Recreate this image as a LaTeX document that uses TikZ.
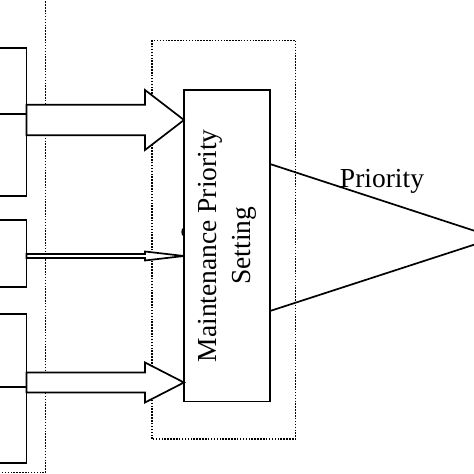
\documentclass[tikz,border=0pt]{standalone}
\usepackage{fontspec}
\setmainfont{Liberation Serif}
\usetikzlibrary{positioning,calc}

\tikzset{
    inbox/.style={draw, line width=1.7pt, minimum width=70pt, outer sep=0pt, inner sep=0pt},
    flow/.style={draw, line width=1.7pt, fill=white, line join=miter, miter limit=3},
    frame/.style={line width=1.5pt, dash pattern=on 1.5pt off 1.4pt},
}

\newcommand{\blockarrow}[5]{%
    \draw[flow] let \p1=(#1.east), \p2=(#2.west) in
        (\x1,#3pt+#4pt) -- (\x2-39pt,#3pt+#4pt) -- (\x2-39pt,#3pt+#5pt) -- (\x2,#3pt)
        -- (\x2-39pt,#3pt-#5pt) -- (\x2-39pt,#3pt-#4pt) -- (\x1,#3pt-#4pt) -- cycle;}

\begin{document}
\begin{tikzpicture}[x=1pt, y=1pt]
    \useasboundingbox (0,0) rectangle (474,474);
    \clip (0,0) rectangle (474,474);

    \draw[frame] (45.7,490) -- (45.7,1.7) -- (-20,1.7);
    \draw[frame] (152,35) rectangle (295.7,433.3);

    \node[inbox, minimum height=65.7pt, anchor=north east] (in1) at (26.5,425.7) {};
    \node[inbox, minimum height=81.7pt, below=0pt of in1]  (in2) {};
    \node[inbox, minimum height=66.7pt, anchor=north east] (in3) at (26.5,254) {};
    \node[inbox, minimum height=72.4pt, anchor=north east] (in4) at (26.5,159.7) {};
    \node[inbox, minimum height=76pt, below=0pt of in4]    (in5) {};

    \node[draw, line width=1.7pt, minimum width=86pt, minimum height=311.5pt,
          outer sep=0pt, anchor=north west] (prio) at (184,384) {};
    \node[rotate=90, align=center, font=\fontsize{27.5}{34}\selectfont] (priotext) at (prio.center)
          {Maintenance Priority\\Setting};
    \fill (183,242) ellipse (1.6pt and 4pt);

    \blockarrow{in1}{prio}{354}{15.2}{30}
    \blockarrow{in3}{prio}{218}{2}{4.5}
    \blockarrow{in4}{prio}{91.5}{10}{20}

    \coordinate (tip) at (495.6,236.3);
    \draw[line width=1.7pt] (prio.east |- 0,310) -- (tip) -- (prio.east |- 0,163);
    \node[anchor=base, font=\fontsize{27.5}{34}\selectfont] (prioout) at (382,286.3) {Priority};

\end{tikzpicture}
\end{document}
